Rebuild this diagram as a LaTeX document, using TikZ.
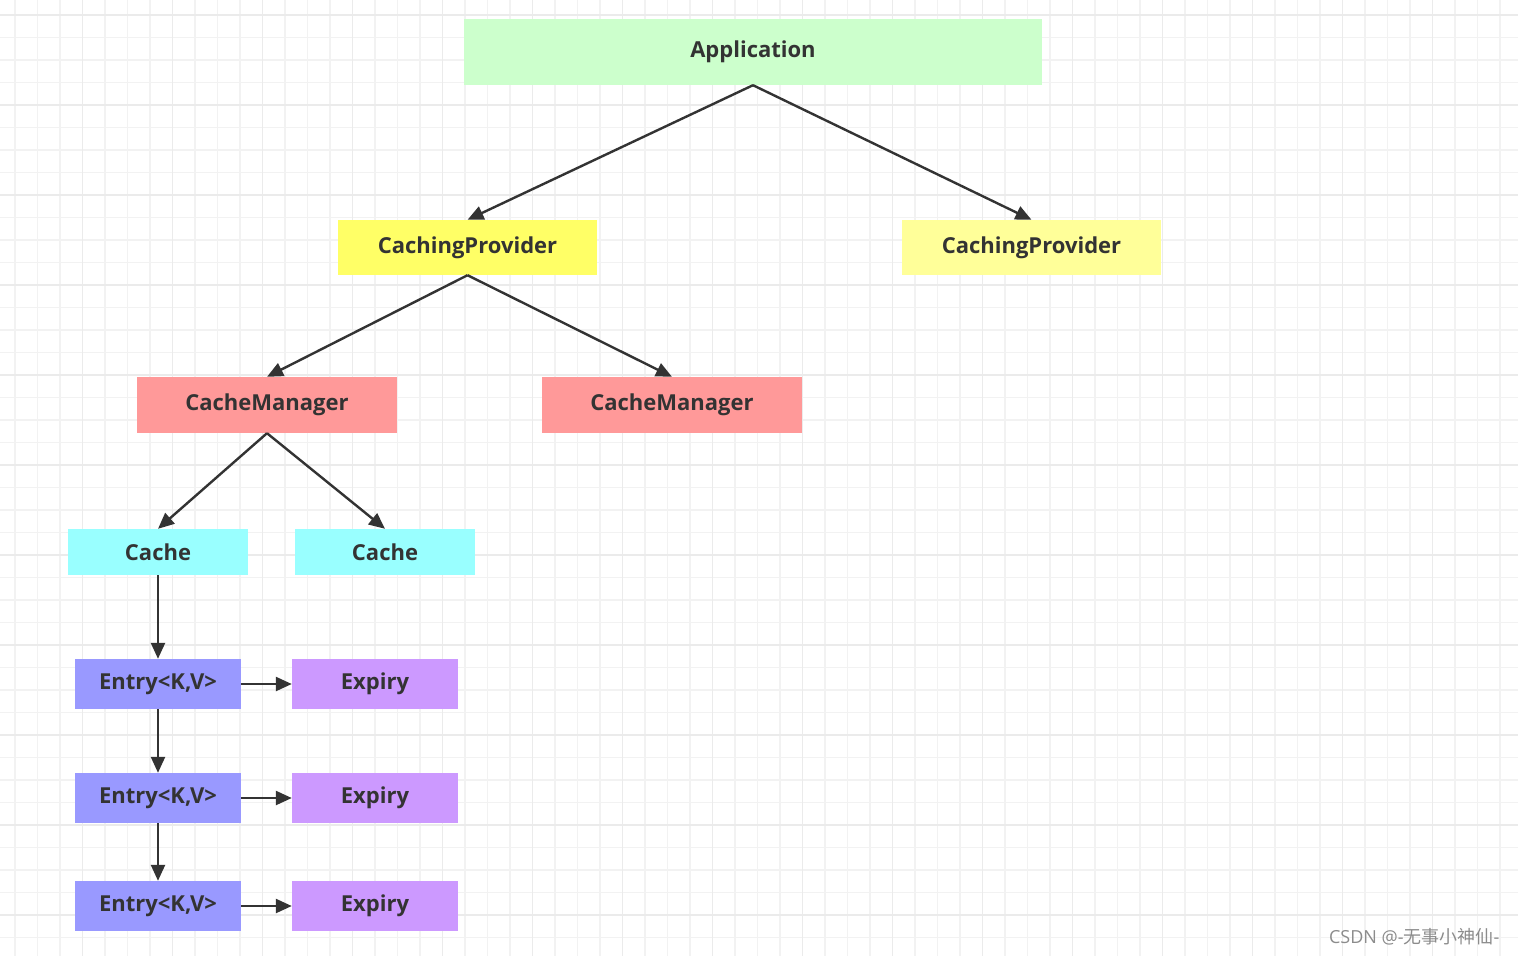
\documentclass[tikz,border=0pt]{standalone}
\usepackage{fontspec}
\setmainfont{Open Sans}
\newfontfamily\cjk{Noto Sans CJK SC}
\usetikzlibrary{arrows.meta}
\begin{document}
\begin{tikzpicture}[x=1pt,y=-1pt,
  box/.style={draw=none,inner sep=0pt,text=black!80,font=\bfseries\fontsize{22}{26}\selectfont},
  arr/.style={draw=black!80,line width=2.4pt,-{Triangle[length=16pt,width=14pt]}}]
\useasboundingbox (0,0) rectangle (1518,956);
\fill[white] (0,0) rectangle (1518,956);
\foreach \i in {0,...,68} {\draw[black!5,line width=1.2pt] (15+\i*22.5,0) -- (15+\i*22.5,956);}
\foreach \i in {0,...,42} {\draw[black!5,line width=1.2pt] (0,15+\i*22.5) -- (1518,15+\i*22.5);}
\foreach \i in {0,...,17} {\draw[black!8,line width=1.4pt] (-7.5+\i*90,0) -- (-7.5+\i*90,956);}
\foreach \i in {0,...,10} {\draw[black!8,line width=1.4pt] (0,15+\i*90) -- (1518,15+\i*90);}
\node[box,fill={rgb,255:red,204;green,255;blue,204},minimum width=578pt,minimum height=66pt] (app) at (753,52) {Application};
\node[box,fill={rgb,255:red,255;green,255;blue,102},minimum width=259pt,minimum height=55pt] (cp1) at (467.5,247.5) {CachingProvider};
\node[box,fill={rgb,255:red,255;green,255;blue,153},minimum width=259pt,minimum height=55pt] (cp2) at (1031.5,247.5) {CachingProvider};
\node[box,fill={rgb,255:red,255;green,153;blue,153},minimum width=260pt,minimum height=56pt] (cm1) at (267,405) {CacheManager};
\node[box,fill={rgb,255:red,255;green,153;blue,153},minimum width=260pt,minimum height=56pt] (cm2) at (672,405) {CacheManager};
\node[box,fill={rgb,255:red,153;green,255;blue,255},minimum width=180pt,minimum height=46pt] (c1) at (158,552) {Cache};
\node[box,fill={rgb,255:red,153;green,255;blue,255},minimum width=180pt,minimum height=46pt] (c2) at (385,552) {Cache};
\foreach \n/\y in {1/684,2/798,3/906}{
  \node[box,fill={rgb,255:red,153;green,153;blue,255},minimum width=166pt,minimum height=50pt] (e\n) at (158,\y) {Entry<K,V>};
  \node[box,fill={rgb,255:red,204;green,153;blue,255},minimum width=166pt,minimum height=50pt] (x\n) at (375,\y) {Expiry};
  \draw[arr] (e\n.east) -- (x\n.west);
}
\draw[arr] (app.south) -- (cp1.north);
\draw[arr] (app.south) -- (cp2.north);
\draw[arr] (cp1.south) -- (cm1.north);
\draw[arr] (cp1.south) -- (cm2.north);
\draw[arr] (cm1.south) -- (c1.north);
\draw[arr] (cm1.south) -- (c2.north);
\draw[arr] (c1.south) -- (e1.north);
\draw[arr] (e1.south) -- (e2.north);
\draw[arr] (e2.south) -- (e3.north);
\node[anchor=east,text=black!45,font=\fontsize{18}{20}\selectfont] (wm) at (1503,937) {CSDN @-{\cjk 无事小神仙}-};
\end{tikzpicture}
\end{document}
